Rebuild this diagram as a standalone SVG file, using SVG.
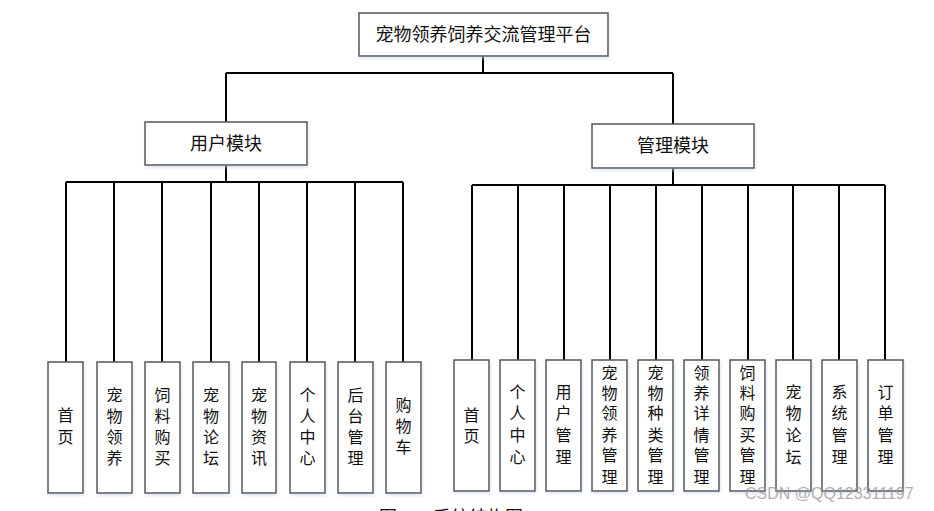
<svg xmlns="http://www.w3.org/2000/svg" width="934" height="511" viewBox="0 0 934 511">
<defs>
<style>
.box{fill:#fff;stroke:#555;stroke-width:1.5;filter:url(#sh)}
.t{font-family:"Liberation Sans","Noto Sans CJK SC",sans-serif;fill:#111;text-anchor:middle}
.big{font-size:18px}
.v{font-size:16px}
.ln{stroke:#000;stroke-width:2;fill:none}
</style>
<filter id="sh" x="-20%" y="-20%" width="140%" height="140%">
<feDropShadow dx="1" dy="2" stdDeviation="1.5" flood-color="#c8d4f0" flood-opacity="0.6"/>
</filter>
</defs>
<rect width="934" height="511" fill="#fff"/>
<g id="connectors">
<path class="ln" d="M483 56V73M226 73H673M226 73V122M673 73V124"/>
<path class="ln" d="M226 165V182M66 182H403M66 182V362M114 182V362M162 182V362M211 182V362M259 182V362M307 182V362M355 182V362M403 182V362"/>
<path class="ln" d="M673 168V185M472 185H885M472 185V360M518 185V360M564 185V360M610 185V360M656 185V360M702 185V360M748 185V360M793 185V360M839 185V360M885 185V360"/>
</g>
<g id="root"><rect class="box" x="359" y="13" width="249" height="43"/><text class="t big" x="483.5" y="41">宠物领养饲养交流管理平台</text></g>
<g id="user"><rect class="box" x="145" y="122" width="162" height="43"/><text class="t big" x="226" y="150">用户模块</text></g>
<g id="admin"><rect class="box" x="592" y="124" width="162" height="44"/><text class="t big" x="673" y="152">管理模块</text></g>
<g id="u1"><rect class="box" x="48" y="362" width="35" height="131"/><text class="t v" x="65.5"><tspan x="65.5" y="421">首</tspan><tspan x="65.5" y="443">页</tspan></text></g>
<g id="u2"><rect class="box" x="97" y="362" width="35" height="131"/><text class="t v"><tspan x="114.5" y="401">宠</tspan><tspan x="114.5" y="422">物</tspan><tspan x="114.5" y="443">领</tspan><tspan x="114.5" y="464">养</tspan></text></g>
<g id="u3"><rect class="box" x="145" y="362" width="35" height="131"/><text class="t v"><tspan x="162.5" y="401">饲</tspan><tspan x="162.5" y="422">料</tspan><tspan x="162.5" y="443">购</tspan><tspan x="162.5" y="464">买</tspan></text></g>
<g id="u4"><rect class="box" x="193" y="362" width="36" height="131"/><text class="t v"><tspan x="211" y="401">宠</tspan><tspan x="211" y="422">物</tspan><tspan x="211" y="443">论</tspan><tspan x="211" y="464">坛</tspan></text></g>
<g id="u5"><rect class="box" x="242" y="362" width="34" height="131"/><text class="t v"><tspan x="259" y="401">宠</tspan><tspan x="259" y="422">物</tspan><tspan x="259" y="443">资</tspan><tspan x="259" y="464">讯</tspan></text></g>
<g id="u6"><rect class="box" x="290" y="362" width="35" height="131"/><text class="t v"><tspan x="307.5" y="401">个</tspan><tspan x="307.5" y="422">人</tspan><tspan x="307.5" y="443">中</tspan><tspan x="307.5" y="464">心</tspan></text></g>
<g id="u7"><rect class="box" x="338" y="362" width="35" height="131"/><text class="t v"><tspan x="355.5" y="401">后</tspan><tspan x="355.5" y="422">台</tspan><tspan x="355.5" y="443">管</tspan><tspan x="355.5" y="464">理</tspan></text></g>
<g id="u8"><rect class="box" x="386" y="362" width="35" height="131"/><text class="t v"><tspan x="403.5" y="411">购</tspan><tspan x="403.5" y="432">物</tspan><tspan x="403.5" y="453">车</tspan></text></g>
<g id="a1"><rect class="box" x="454" y="360" width="35" height="131"/><text class="t v"><tspan x="471.5" y="421">首</tspan><tspan x="471.5" y="442">页</tspan></text></g>
<g id="a2"><rect class="box" x="500" y="360" width="35" height="131"/><text class="t v"><tspan x="517.5" y="398">个</tspan><tspan x="517.5" y="419">人</tspan><tspan x="517.5" y="441">中</tspan><tspan x="517.5" y="463">心</tspan></text></g>
<g id="a3"><rect class="box" x="546" y="360" width="35" height="131"/><text class="t v"><tspan x="563.5" y="398">用</tspan><tspan x="563.5" y="419">户</tspan><tspan x="563.5" y="441">管</tspan><tspan x="563.5" y="463">理</tspan></text></g>
<g id="a4"><rect class="box" x="592" y="360" width="35" height="131"/><text class="t v"><tspan x="609.5" y="379">宠</tspan><tspan x="609.5" y="399">物</tspan><tspan x="609.5" y="419">领</tspan><tspan x="609.5" y="441">养</tspan><tspan x="609.5" y="461">管</tspan><tspan x="609.5" y="483">理</tspan></text></g>
<g id="a5"><rect class="box" x="638" y="360" width="35" height="131"/><text class="t v"><tspan x="655.5" y="379">宠</tspan><tspan x="655.5" y="399">物</tspan><tspan x="655.5" y="419">种</tspan><tspan x="655.5" y="441">类</tspan><tspan x="655.5" y="461">管</tspan><tspan x="655.5" y="483">理</tspan></text></g>
<g id="a6"><rect class="box" x="684" y="360" width="35" height="131"/><text class="t v"><tspan x="701.5" y="379">领</tspan><tspan x="701.5" y="399">养</tspan><tspan x="701.5" y="419">详</tspan><tspan x="701.5" y="441">情</tspan><tspan x="701.5" y="461">管</tspan><tspan x="701.5" y="483">理</tspan></text></g>
<g id="a7"><rect class="box" x="730" y="360" width="35" height="131"/><text class="t v"><tspan x="747.5" y="379">饲</tspan><tspan x="747.5" y="399">料</tspan><tspan x="747.5" y="419">购</tspan><tspan x="747.5" y="441">买</tspan><tspan x="747.5" y="461">管</tspan><tspan x="747.5" y="483">理</tspan></text></g>
<g id="a8"><rect class="box" x="776" y="360" width="35" height="131"/><text class="t v"><tspan x="793.5" y="398">宠</tspan><tspan x="793.5" y="419">物</tspan><tspan x="793.5" y="441">论</tspan><tspan x="793.5" y="463">坛</tspan></text></g>
<g id="a9"><rect class="box" x="822" y="360" width="35" height="131"/><text class="t v"><tspan x="839.5" y="398">系</tspan><tspan x="839.5" y="419">统</tspan><tspan x="839.5" y="441">管</tspan><tspan x="839.5" y="463">理</tspan></text></g>
<g id="a10"><rect class="box" x="868" y="360" width="35" height="131"/><text class="t v"><tspan x="885.5" y="398">订</tspan><tspan x="885.5" y="419">单</tspan><tspan x="885.5" y="441">管</tspan><tspan x="885.5" y="463">理</tspan></text></g>
<text class="t big" x="379" y="524" style="text-anchor:start">图 4-2  系统结构图</text>
<text x="745" y="499" style="font-family:'Liberation Sans',sans-serif;font-size:16px;fill:#999;fill-opacity:0.8">CSDN @QQ123311197</text>
</svg>
